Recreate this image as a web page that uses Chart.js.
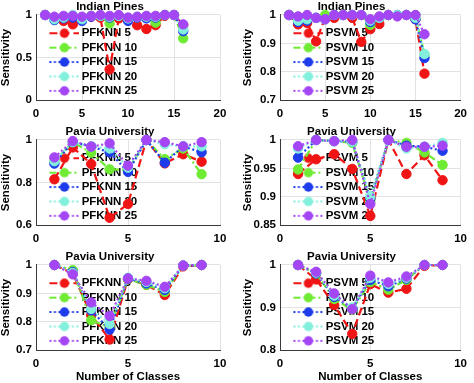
<!DOCTYPE html>
<html>
<head>
<meta charset="utf-8">
<script src="https://cdn.jsdelivr.net/npm/chart.js@4.4.1/dist/chart.umd.min.js"></script>
<style>
  html, body { margin: 0; padding: 0; background: #fff; }
  body { width: 474px; height: 383px; position: relative; overflow: hidden; }
  canvas { position: absolute; }
</style>
</head>
<body>
<canvas id="ipKnn" width="237" height="125" style="left:0;top:0"></canvas>
<canvas id="ipSvm" width="237" height="125" style="left:237px;top:0"></canvas>
<canvas id="puKnn" width="237" height="125" style="left:0;top:125px"></canvas>
<canvas id="puSvm" width="237" height="125" style="left:237px;top:125px"></canvas>
<canvas id="pu2Knn" width="237" height="133" style="left:0;top:250px"></canvas>
<canvas id="pu2Svm" width="237" height="133" style="left:237px;top:250px"></canvas>
<script>
// ---- data ----
const classesIP = [1, 2, 3, 4, 5, 6, 7, 8, 9, 10, 11, 12, 13, 14, 15, 16];
const classesPU = [1, 2, 3, 4, 5, 6, 7, 8, 9];
const neighbourSizes = [5, 10, 15, 20, 25];

// Indian Pines, PFKNN
const ipKnn5  = [1.00, 0.96, 0.93, 0.89, 0.95, 0.98, 0.97, 0.36, 0.96, 0.95, 0.88, 0.835, 0.88, 0.99, 1.00, 0.88];
const ipKnn10 = [1.00, 0.97, 0.97, 0.98, 0.96, 0.99, 0.99, 0.90, 0.99, 0.95, 0.97, 0.98, 0.91, 1.00, 1.00, 0.725];
const ipKnn15 = [1.00, 0.94, 0.96, 0.97, 0.93, 0.98, 0.99, 0.97, 0.99, 0.93, 0.97, 0.96, 0.97, 1.00, 1.00, 0.81];
const ipKnn20 = [1.00, 0.95, 0.97, 1.00, 0.95, 0.99, 0.99, 0.98, 0.99, 0.96, 0.98, 0.98, 0.98, 1.00, 1.00, 0.83];
const ipKnn25 = [1.00, 0.98, 0.99, 0.99, 0.98, 0.99, 1.00, 0.99, 1.00, 0.97, 0.98, 0.99, 0.99, 1.00, 1.00, 0.89];

// Indian Pines, PSVM
const ipSvm5  = [1.00, 0.967, 0.972, 0.907, 0.99, 0.99, 1.00, 0.99, 0.905, 0.95, 0.968, 1.00, 0.998, 1.00, 0.985, 0.793];
const ipSvm10 = [1.00, 0.985, 0.99, 0.99, 1.00, 1.00, 1.00, 1.00, 1.00, 0.965, 0.99, 1.00, 1.00, 1.00, 1.00, 0.86];
const ipSvm15 = [1.00, 0.975, 0.98, 0.99, 0.985, 1.00, 1.00, 1.00, 1.00, 0.975, 0.99, 1.00, 1.00, 1.00, 0.985, 0.848];
const ipSvm20 = [1.00, 0.98, 0.985, 0.99, 0.985, 1.00, 1.00, 1.00, 1.00, 0.98, 0.99, 1.00, 1.00, 1.00, 0.99, 0.862];
const ipSvm25 = [1.00, 0.995, 1.00, 0.99, 0.985, 1.00, 1.00, 1.00, 1.00, 0.985, 0.995, 1.00, 0.995, 1.00, 1.00, 0.932];

// Pavia University, PFKNN (middle row)
const puKnn5  = [0.815, 0.965, 0.887, 0.634, 0.699, 1.00, 0.89, 0.933, 0.898];
const puKnn10 = [0.90, 0.99, 0.94, 0.862, 0.86, 1.00, 0.91, 0.96, 0.839];
const puKnn15 = [0.889, 0.99, 0.97, 0.942, 0.85, 1.00, 0.893, 0.97, 0.942];
const puKnn20 = [0.90, 0.99, 0.97, 0.96, 0.87, 1.00, 0.98, 0.97, 0.97];
const puKnn25 = [0.918, 0.995, 0.969, 0.984, 0.879, 1.00, 0.99, 0.97, 0.99];

// Pavia University, PSVM (middle row)
const puSvm5  = [0.94, 0.966, 0.975, 0.949, 0.866, 1.00, 0.94, 0.973, 0.929];
const puSvm10 = [0.948, 1.00, 0.998, 0.995, 0.892, 1.00, 0.995, 0.978, 0.956];
const puSvm15 = [0.969, 1.00, 0.998, 0.997, 0.897, 1.00, 0.99, 0.988, 0.981];
const puSvm20 = [0.985, 1.00, 0.998, 0.997, 0.90, 1.00, 0.985, 0.988, 0.995];
const puSvm25 = [0.989, 1.00, 0.998, 1.00, 0.887, 1.00, 0.988, 0.988, 0.99];

// Pavia University, PFKNN (bottom row)
const pu2Knn5  = [1.00, 0.97, 0.823, 0.737, 0.95, 0.93, 0.894, 0.995, 1.00];
const pu2Knn10 = [1.00, 0.982, 0.805, 0.78, 0.95, 0.93, 0.905, 0.998, 1.00];
const pu2Knn15 = [1.00, 0.975, 0.84, 0.772, 0.952, 0.935, 0.912, 0.998, 1.00];
const pu2Knn20 = [1.00, 0.972, 0.845, 0.792, 0.955, 0.94, 0.918, 0.998, 1.00];
const pu2Knn25 = [1.00, 0.967, 0.868, 0.82, 0.953, 0.944, 0.923, 0.998, 1.00];

// Pavia University, PSVM (bottom row)
const pu2Svm5  = [1.00, 0.966, 0.906, 0.838, 0.955, 0.935, 0.944, 0.998, 1.00];
const pu2Svm10 = [1.00, 0.98, 0.92, 0.895, 0.96, 0.942, 0.965, 1.00, 1.00];
const pu2Svm15 = [1.00, 0.98, 0.925, 0.898, 0.965, 0.95, 0.968, 1.00, 1.00];
const pu2Svm20 = [1.00, 0.982, 0.928, 0.90, 0.97, 0.955, 0.97, 1.00, 1.00];
const pu2Svm25 = [1.00, 0.984, 0.933, 0.896, 0.975, 0.959, 0.973, 1.00, 1.00];

// ---- styles ----
const FONT = "'Liberation Sans', Arial, sans-serif";
const seriesColors = ['#f01414', '#6eeb32', '#1e3ceb', '#82f0dc', '#a546f5'];
const seriesDashes = [[8, 4], [7, 3, 2, 3], [2, 2.5], [2, 2.5], [2, 2.5]];
const MARKER_R = 4.7;

// legend sample: dashed line with a marker in the middle
const legendIcons = seriesColors.map((color, i) => {
    const c = document.createElement('canvas');
    c.width = 44;
    c.height = 12;
    const ctx = c.getContext('2d');
    ctx.strokeStyle = color;
    ctx.lineWidth = 2.2;
    ctx.setLineDash(seriesDashes[i]);
    ctx.beginPath();
    ctx.moveTo(14, 6);
    ctx.lineTo(44, 6);
    ctx.stroke();
    ctx.setLineDash([]);
    ctx.fillStyle = color;
    ctx.beginPath();
    ctx.arc(29, 6, MARKER_R, 0, Math.PI * 2);
    ctx.fill();
    return c;
});

// the chartArea legend is laid out from y=0, move it down into the plot box
const legendInPlot = {
    id: 'legendInPlot',
    beforeDraw(chart) {
        const lg = chart.legend, area = chart.chartArea;
        lg.top = area.top + 9.6;
        lg.bottom = area.bottom + 20;
    }
};

function makePanel(id, p) {
    const canvas = document.getElementById(id);
    const W = canvas.width, H = canvas.height;
    return new Chart(canvas, {
        type: 'line',
        plugins: [legendInPlot],
        data: {
            datasets: p.series.map((vals, i) => ({
                label: p.method + ' ' + neighbourSizes[i],
                data: p.classes.map((c, j) => ({x: c, y: vals[j]})),
                borderColor: seriesColors[i],
                backgroundColor: seriesColors[i],
                pointBackgroundColor: seriesColors[i],
                pointBorderColor: seriesColors[i],
                borderWidth: 2.2,
                borderDash: seriesDashes[i],
                pointRadius: MARKER_R,
                pointBorderWidth: 1,
                tension: 0,
                clip: false,
                order: p.series.length - 1 - i
            }))
        },
        options: {
            responsive: false,
            animation: false,
            devicePixelRatio: 1,
            events: [],
            layout: {padding: {left: 0, right: W - p.right, top: 0, bottom: 0}},
            plugins: {
                tooltip: {enabled: false},
                title: {
                    display: true,
                    text: p.title,
                    color: '#000',
                    font: {family: FONT, size: 11.5, weight: 'bold', lineHeight: 1.2},
                    padding: {top: 0, bottom: 1.2}
                },
                legend: {
                    position: 'chartArea',
                    align: 'start',
                    labels: {
                        usePointStyle: true,
                        pointStyleWidth: 37,
                        padding: 2.9,
                        color: '#000',
                        font: {family: FONT, size: 11.5, weight: 'bold'},
                        generateLabels: chart => Chart.defaults.plugins.legend.labels.generateLabels(chart)
                            .sort((a, b) => a.datasetIndex - b.datasetIndex)
                            .map(item => Object.assign(item, {pointStyle: legendIcons[item.datasetIndex]}))
                    }
                }
            },
            scales: {
                x: {
                    type: 'linear',
                    min: 0,
                    max: p.xMax,
                    afterFit: s => { s.height = H - 100; },
                    ticks: {
                        stepSize: 5, autoSkip: false, maxRotation: 0, padding: 7,
                        color: '#000', font: {family: FONT, size: 11.5, weight: 'bold'}
                    },
                    grid: {color: '#e2e2e2', drawTicks: false},
                    border: {color: '#3a3a3a'},
                    title: {
                        display: !!p.xTitle,
                        text: p.xTitle || '',
                        color: '#000',
                        font: {family: FONT, size: 11.5, weight: 'bold', lineHeight: 1},
                        padding: {top: 0, bottom: 0}
                    }
                },
                y: {
                    min: p.yMin,
                    max: 1,
                    afterFit: s => { s.width = p.left; },
                    ticks: {
                        stepSize: p.yStep, padding: 4,
                        color: '#000', font: {family: FONT, size: 11.5, weight: 'bold'},
                        callback: v => String(Number(v.toFixed(3)))
                    },
                    grid: {color: '#e2e2e2', drawTicks: false},
                    border: {color: '#3a3a3a'},
                    title: {
                        display: true,
                        text: 'Sensitivity',
                        color: '#000',
                        font: {family: FONT, size: 11.5, weight: 'bold', lineHeight: 1},
                        padding: {top: p.yTitlePad, bottom: 0}
                    }
                }
            }
        }
    });
}

const leftCol = {left: 36, right: 220, yTitlePad: 0};
const rightCol = {left: 43, right: 229, yTitlePad: 5};

makePanel('ipKnn', Object.assign({}, leftCol, {
    title: 'Indian Pines', method: 'PFKNN', classes: classesIP, xMax: 20, yMin: 0, yStep: 0.5,
    series: [ipKnn5, ipKnn10, ipKnn15, ipKnn20, ipKnn25]
}));
makePanel('ipSvm', Object.assign({}, rightCol, {
    title: 'Indian Pines', method: 'PSVM', classes: classesIP, xMax: 20, yMin: 0.7, yStep: 0.1,
    series: [ipSvm5, ipSvm10, ipSvm15, ipSvm20, ipSvm25]
}));
makePanel('puKnn', Object.assign({}, leftCol, {
    title: 'Pavia University', method: 'PFKNN', classes: classesPU, xMax: 10, yMin: 0.6, yStep: 0.2,
    series: [puKnn5, puKnn10, puKnn15, puKnn20, puKnn25]
}));
makePanel('puSvm', Object.assign({}, rightCol, {
    title: 'Pavia University', method: 'PSVM', classes: classesPU, xMax: 10, yMin: 0.85, yStep: 0.05,
    series: [puSvm5, puSvm10, puSvm15, puSvm20, puSvm25]
}));
makePanel('pu2Knn', Object.assign({}, leftCol, {
    title: 'Pavia University', method: 'PFKNN', classes: classesPU, xMax: 10, yMin: 0.7, yStep: 0.1,
    xTitle: 'Number of Classes',
    series: [pu2Knn5, pu2Knn10, pu2Knn15, pu2Knn20, pu2Knn25]
}));
makePanel('pu2Svm', Object.assign({}, rightCol, {
    title: 'Pavia University', method: 'PSVM', classes: classesPU, xMax: 10, yMin: 0.8, yStep: 0.1,
    xTitle: 'Number of Classes',
    series: [pu2Svm5, pu2Svm10, pu2Svm15, pu2Svm20, pu2Svm25]
}));
</script>
</body>
</html>
